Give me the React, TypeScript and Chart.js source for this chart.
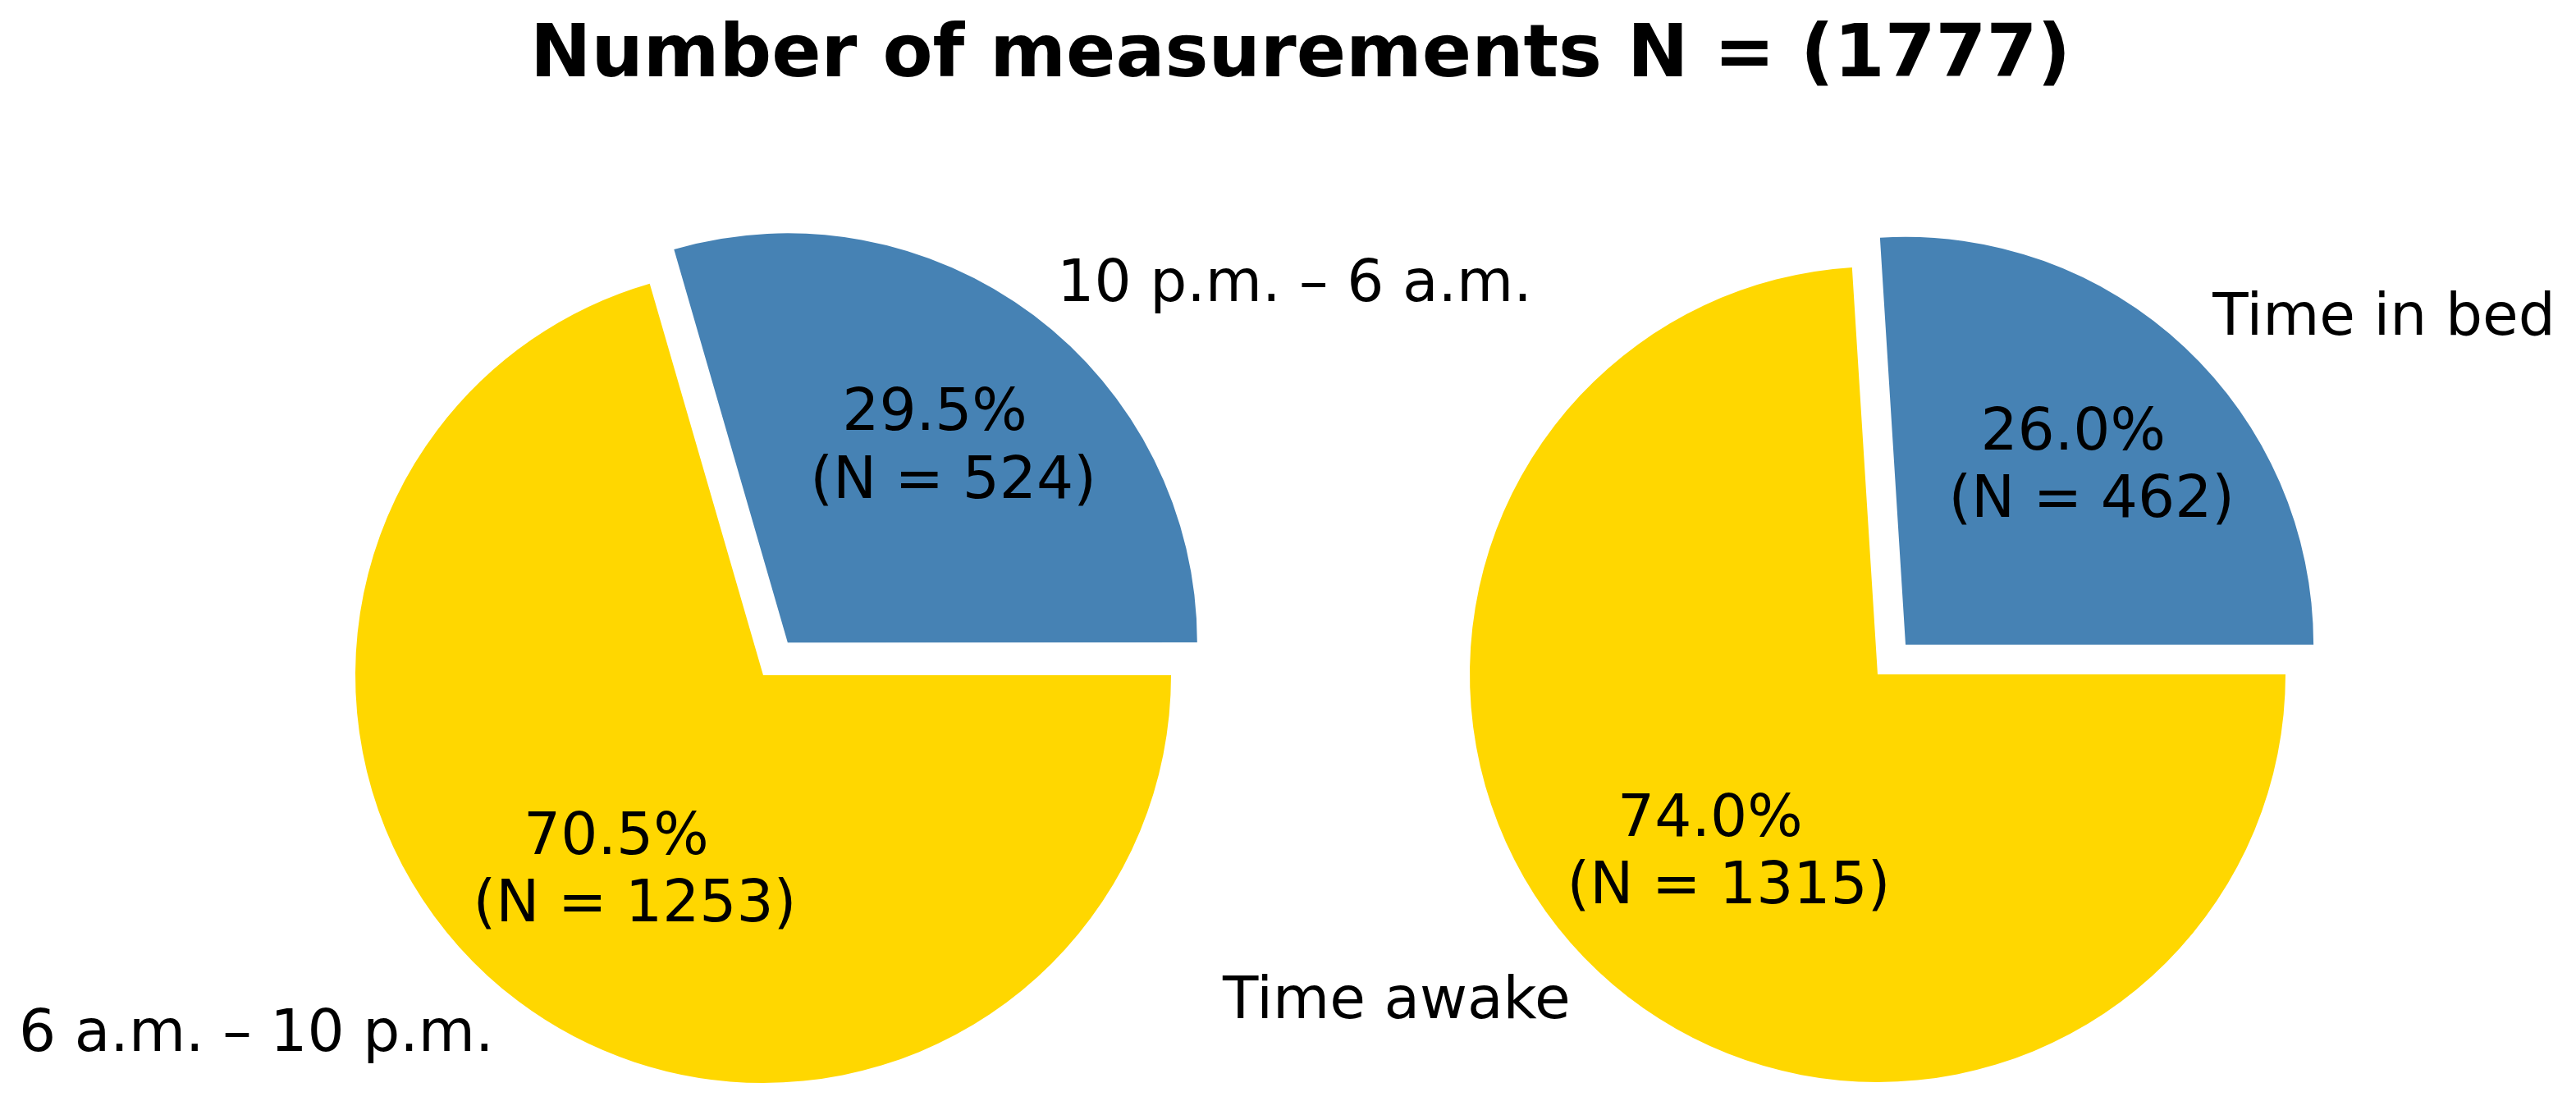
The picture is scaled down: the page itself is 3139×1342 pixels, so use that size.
import React, { useEffect, useRef } from 'react';
import { Chart, registerables } from 'chart.js';

Chart.register(...registerables);

// ---- data ----
const titleText = 'Number of measurements N = (1777)';
const leftCategories = ['10 p.m. – 6 a.m.', '6 a.m. – 10 p.m.'];
const leftCounts = [524, 1253];
const rightCategories = ['Time in bed', 'Time awake'];
const rightCounts = [462, 1315];
const sliceColors = ['#4682B4', '#FFD700'];
const explode = [0.1, 0];

// ---- layout / style ----
const W = 3139;
const H = 1342;
const FONT = '"DejaVu Sans", "Liberation Sans", sans-serif';
const LABEL_SIZE = 71;
const TITLE_SIZE = 89;
const RADIUS = 497;

const pieLabelPlugin = {
  id: 'pieLabels',
  afterDatasetsDraw(chart: any) {
    const ctx = chart.ctx;
    const meta = chart.getDatasetMeta(0);
    const ds = chart.data.datasets[0];
    const total = ds.data.reduce((a: number, b: number) => a + b, 0);
    const baseShift = 0.29 * LABEL_SIZE;
    const lineGap = 1.16 * LABEL_SIZE;
    ctx.save();
    ctx.fillStyle = '#000000';
    ctx.font = `${LABEL_SIZE}px ${FONT}`;
    ctx.textBaseline = 'alphabetic';
    meta.data.forEach((arc: any, i: number) => {
      const { x, y, startAngle, endAngle, outerRadius } = arc.getProps(
        ['x', 'y', 'startAngle', 'endAngle', 'outerRadius'],
        true
      );
      const off = (arc.options.offset || 0) / 4;
      const mid = (startAngle + endAngle) / 2;
      const c = Math.cos(mid);
      const s = Math.sin(mid);
      const cx = x + c * off;
      const cy = y + s * off;
      // outer category label
      ctx.textAlign = c >= 0 ? 'left' : 'right';
      ctx.fillText(
        chart.data.labels[i],
        cx + 1.1 * outerRadius * c,
        cy + 1.1 * outerRadius * s + baseShift
      );
      // percentage label
      const v = ds.data[i];
      const lines = [`${((v / total) * 100).toFixed(1)}%`, `  (N = ${v})`];
      ctx.textAlign = 'center';
      const px = cx + 0.6 * outerRadius * c;
      const py = cy + 0.6 * outerRadius * s;
      lines.forEach((t, k) => {
        ctx.fillText(t, px, py + baseShift + (k - (lines.length - 1) / 2) * lineGap);
      });
    });
    ctx.restore();
  },
};

const titlePlugin = {
  id: 'figTitle',
  afterDraw(chart: any) {
    const ctx = chart.ctx;
    ctx.save();
    ctx.fillStyle = '#000000';
    ctx.font = `bold ${TITLE_SIZE}px ${FONT}`;
    ctx.textAlign = 'center';
    ctx.textBaseline = 'alphabetic';
    ctx.fillText(titleText, chart.width / 2 + 15, 93);
    ctx.restore();
  },
};

function makeConfig(categories: string[], counts: number[], padding: any, withTitle: boolean) {
  const total = counts.reduce((a, b) => a + b, 0);
  const rotation = 90 - (360 * counts[0]) / total;
  return {
    type: 'pie' as const,
    data: {
      labels: categories,
      datasets: [
        {
          data: counts,
          backgroundColor: sliceColors,
          borderWidth: 0,
          offset: explode.map((e) => e * RADIUS * 4),
          hoverOffset: 0,
        },
      ],
    },
    options: {
      responsive: false,
      animation: false as const,
      devicePixelRatio: 1,
      rotation,
      radius: RADIUS,
      layout: { padding },
      events: [],
      plugins: {
        legend: { display: false },
        tooltip: { enabled: false },
        title: { display: false },
      },
    },
    plugins: withTitle ? [pieLabelPlugin, titlePlugin] : [pieLabelPlugin],
  };
}

export default function App() {
  const leftRef = useRef<HTMLCanvasElement | null>(null);
  const rightRef = useRef<HTMLCanvasElement | null>(null);

  useEffect(() => {
    document.body.style.margin = '0';
    document.body.style.background = '#ffffff';
    const charts: Chart[] = [];
    if (leftRef.current) {
      charts.push(
        new Chart(
          leftRef.current,
          makeConfig(leftCategories, leftCounts, { left: 0, right: W - 1860, top: 304, bottom: 0 }, true) as any
        )
      );
    }
    if (rightRef.current) {
      charts.push(
        new Chart(
          rightRef.current,
          makeConfig(rightCategories, rightCounts, { left: 1437, right: 0, top: 302, bottom: 0 }, false) as any
        )
      );
    }
    return () => charts.forEach((c) => c.destroy());
  }, []);

  const canvasStyle: React.CSSProperties = {
    position: 'absolute',
    left: 0,
    top: 0,
    width: W,
    height: H,
  };

  return (
    <div style={{ position: 'relative', width: W, height: H, background: '#ffffff', overflow: 'hidden' }}>
      <canvas ref={leftRef} width={W} height={H} style={canvasStyle} />
      <canvas ref={rightRef} width={W} height={H} style={canvasStyle} />
    </div>
  );
}
